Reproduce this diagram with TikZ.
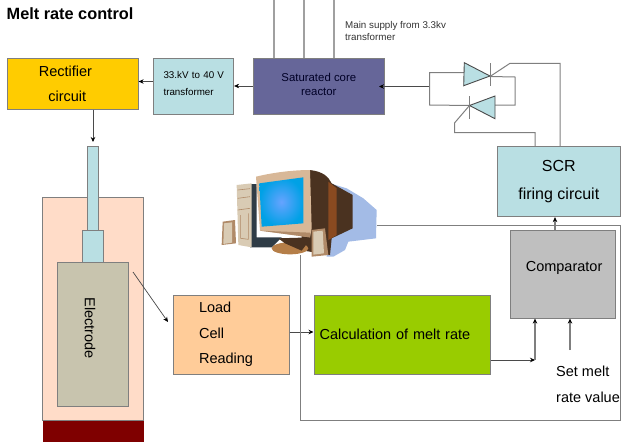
\documentclass[tikz,border=0pt]{standalone}
\usepackage{fontspec}
\setmainfont{Liberation Sans}
\usetikzlibrary{arrows.meta}
\definecolor{paleblue}{HTML}{B9DFE3}
\definecolor{linegray}{HTML}{7F7F7F}
\definecolor{wiregray}{HTML}{A0A0A0}
\definecolor{tipgray}{HTML}{4A4A4A}
\definecolor{rectcol}{HTML}{FFCC00}
\definecolor{reactcol}{HTML}{666699}
\definecolor{calccol}{HTML}{99CC00}
\definecolor{loadcol}{HTML}{FFCC99}
\definecolor{furncol}{HTML}{FFDCC8}
\definecolor{electcol}{HTML}{C8C4AE}
\definecolor{meltcol}{HTML}{7F0000}
\definecolor{shadowcol}{HTML}{A3BBE6}
\definecolor{backcol}{HTML}{4A3220}
\definecolor{ribcol}{HTML}{8A4A20}
\definecolor{bezelcol}{HTML}{D8B898}
\definecolor{bezeldark}{HTML}{B08A68}
\definecolor{towercol}{HTML}{D9CBB4}
\definecolor{undercol}{HTML}{2F3C46}
\definecolor{basecol}{HTML}{B57E48}
\tikzset{
    box/.style 2 args={draw=linegray, line width=1.1pt, minimum width=#1, minimum height=#2,
        inner sep=0pt, anchor=north west, font=\fontsize{14.5}{25.5}\selectfont},
    small/.style={font=\fontsize{9.8}{17}\selectfont},
    wire/.style={draw=linegray, line width=1pt},
    feed/.style={draw=wiregray, line width=1.4pt},
    arr/.style={draw=tipgray, line width=.7pt, -{Stealth[length=5pt,width=4.5pt,black]}},
    arrup/.style={draw=linegray, line width=1.2pt, -{Stealth[length=5pt,width=4.5pt,black]}},
    scr/.style={draw=tipgray, line width=.9pt, fill=paleblue}
}
\begin{document}
\begin{tikzpicture}[x=1pt,y=-1pt]
\useasboundingbox (0,0) rectangle (638,442);
\node [anchor=west, inner sep=0pt, font=\fontsize{16.3}{18}\selectfont\bfseries] (title) at (6.5,14) {Melt rate control};

% top row
\node [box={130.5pt}{51pt}, fill=rectcol, text width=68pt, align=left] (rectifier) at (7,58)
    {Rectifier\\\hspace*{9.5pt}circuit};
\node [box={80.5pt}{55.5pt}, fill=paleblue, small, text width=59.5pt, align=left, text depth=22pt] (transformer) at (152.5,58)
    {33.kV~to~40~V\\transformer};
\node [box={130.5pt}{55.5pt}, fill=reactcol, text=black!85!blue, align=center,
    font=\fontsize{11.4}{14}\selectfont, text depth=4pt] (reactor) at (253,58) {Saturated core\\reactor};
\node [anchor=north west, inner sep=0pt, align=left, text=black!80, font=\fontsize{9.8}{12}\selectfont] (supply) at (345,21.5) {Main supply from 3.3kv\\transformer};
\coordinate (feedA) at (274,0);
\coordinate (feedB) at (304,0);
\coordinate (feedC) at (334,0);
\draw [feed] (feedA) -- (feedA |- reactor.north);
\draw [feed] (feedB) -- (feedB |- reactor.north);
\draw [feed] (feedC) -- (feedC |- reactor.north);

% furnace
\node [box={100.5pt}{223pt}, fill=furncol] (furnace) at (42,197) {};
\node [box={10.5pt}{84pt}, fill=paleblue] (rod) at (87,146) {};
\node [box={21pt}{32pt}, fill=paleblue] (neck) at (82,230) {};
\node [box={70.5pt}{144pt}, fill=electcol] (electrode) at (57,262) {};
\node [rotate=-90, inner sep=0pt, font=\fontsize{14.5}{16}\selectfont] (electrodetext) at (90,328) {Electrode};
\node [box={100.5pt}{22pt}, draw=none, fill=meltcol] (melt) at (42.5,420) {};

% lower row
\node [box={116pt}{79pt}, fill=loadcol, text width=64pt, align=left] (load) at (172.5,294.5) {Load\\Cell\\Reading};
\node [box={176pt}{79pt}, fill=calccol, text width=165pt, align=left] (calc) at (313.5,294.5) {Calculation of melt rate};
\node [box={105.5pt}{88pt}, fill=black!25, text width=74pt, align=left, text depth=16pt] (comparator) at (509.5,229.5) {Comparator};
\node [box={123.5pt}{70pt}, fill=paleblue, align=center, font=\fontsize{16}{28}\selectfont] (firing) at (496.5,146) {SCR\\firing circuit};
\node [anchor=north west, inner sep=0pt, align=left, font=\fontsize{14.5}{26}\selectfont] (setmelt) at (556,366) {Set melt\\rate value};

% arrows
\draw [arr] (reactor.west |- 0,86) -- (transformer.east |- 0,86);
\draw [arr] (transformer.west |- 0,81.5) -- (rectifier.east |- 0,81.5);
\coordinate (rectout) at (93,109.5);
\coordinate (rodtop) at (93,142);
\draw [arr] (rectout) -- (rodtop);
\coordinate (sensefrom) at (133,272);
\coordinate (senseto) at (168,322);
\draw [arr] (sensefrom) -- (senseto);
\draw [arr] (load.east |- 0,332) -- (calc.west |- 0,332);
\coordinate (calcjoin) at (535,360);
\draw [arr] (calc.east |- calcjoin) -- (calcjoin);
\draw [arrup] (calcjoin) -- (calcjoin |- comparator.south);
\coordinate (setfree) at (570,350);
\draw [arrup] (setfree) -- (setfree |- comparator.south);
\coordinate (compout) at (555,230);
\draw [arrup] (compout) -- (compout |- firing.south);

% thyristors
\coordinate (bridgeW) at (429.5,86.5);
\coordinate (upA) at (464,72.5);
\coordinate (upK) at (490,76.5);
\coordinate (lowA) at (495,105);
\coordinate (lowK) at (469.5,105.5);
\draw [arr] (bridgeW) -- (379,86.5);
\draw [wire] (upA) -- (429.5,72.5) -- (429.5,105) -- (lowK);
\draw [wire] (upK) -- (515,77) -- (515,105) -- (lowA);
\draw [wire] (upK) -- (510,63.3) -- (560,63.3) -- (560,146);
\draw [wire] (lowK) -- (454.5,123) -- (454.5,132.7) -- (535,132.7) -- (535,146);
\draw [scr] (464.3,62.7) -- (490,76) -- (463.7,85.7) -- cycle;
\draw [scr] (495,96) -- (469.5,105.5) -- (495,118.7) -- cycle;
\draw [wire] (490,63.3) -- (490,86);
\draw [wire] (469.5,96) -- (469.5,118.7);

% loop round the comparator
\coordinate (pcright) at (377,225.5);
\coordinate (pcdown) at (300.5,255);
\draw [wire] (pcright) -- (620.5,225.5) -- (620.5,420) -- (300.5,420) -- (pcdown);

% computer
\begin{scope}[shift={(200,160)},x=1/3*1pt,y=-1/3*1pt]
\fill [shadowcol] (390,70) -- (440,85) -- (490,115) -- (530,150) -- (528,235) -- (445,245) -- (435,270) -- (400,290) -- (380,290) -- cycle;
\fill [backcol] (330,30) .. controls (370,35) and (385,50) .. (395,70) -- (458,105) -- (458,205) -- (395,235) -- (390,285) -- (300,270) -- cycle;
\fill [ribcol] (385,65) -- (410,85) -- (410,225) -- (385,240) -- cycle;
\fill [undercol] (150,72) -- (170,72) -- (170,232) -- (245,232) -- (215,262) -- (150,262) -- cycle;
\fill [towercol] (110,75) -- (155,70) -- (155,262) -- (115,255) -- cycle;
\draw [bezeldark, line width=.6pt] (113,90) -- (150,86) (113,115) -- (150,110) (113,150) -- (150,145) (122,165) -- (122,235) -- (145,238) -- (145,160);
\fill [basecol] (270,265) ellipse [x radius=55, y radius=18];
\fill [backcol] (235,235) -- (335,232) -- (305,272) -- (255,250) -- cycle;
\fill [bezelcol] (168,50) .. controls (230,35) and (290,30) .. (330,30) -- (335,205) -- (330,232) -- (180,212) -- cycle;
\fill [bezeldark] (180,212) -- (330,218) -- (330,232) -- cycle;
\shade [inner color=blue!60!cyan!60!white, outer color=blue!30!cyan!90!black] (178,70) -- (310,52) -- (310,190) -- (185,200) -- cycle;
\fill [bezeldark] (68,185) -- (105,180) -- (108,250) -- (65,255) -- cycle;
\fill [towercol] (72,190) -- (96,187) -- (96,248) -- (70,252) -- cycle;
\fill [bezeldark] (335,210) -- (375,205) -- (385,285) -- (335,290) -- cycle;
\fill [towercol] (340,215) -- (368,212) -- (372,280) -- (340,284) -- cycle;
\end{scope}
\end{tikzpicture}
\end{document}
